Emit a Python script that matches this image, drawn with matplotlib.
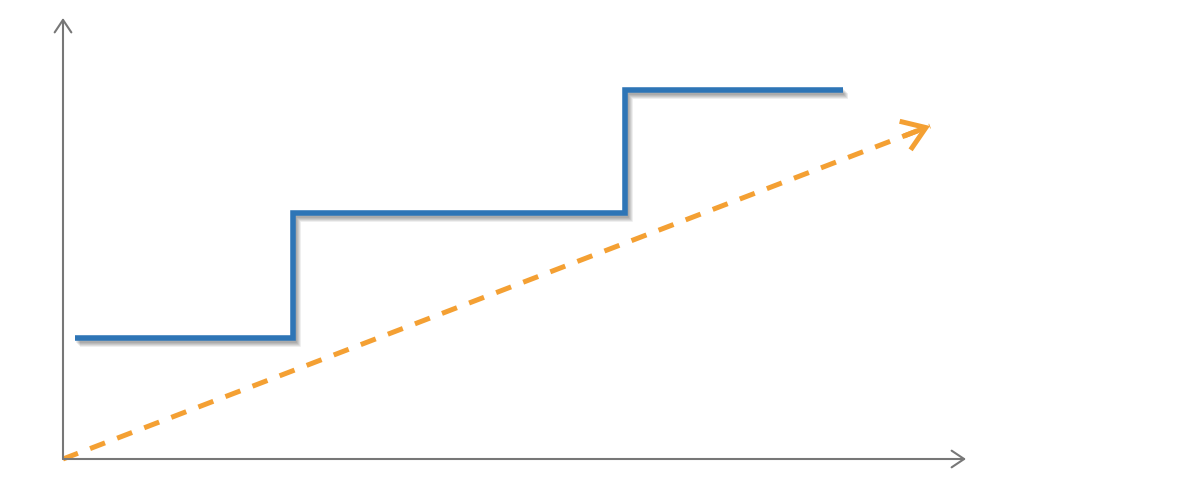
import matplotlib
matplotlib.use('Agg')
from matplotlib import pyplot as plt
import matplotlib.patheffects as pe

# step line (x in steps of the axis, y levels)
step_x = [0.12, 2.30, 5.62, 7.80]
step_y = [1.21, 2.46, 3.69]

# dashed trend from origin to arrow tip
trend_x = [0.0, 8.67]
trend_y = [0.0, 3.33]

# axis extent
x_end = 9.03
y_end = 4.41

blue = '#2E75B6'
orange = '#F4A033'
grey = '#777777'

fig = plt.figure(figsize=(12, 4.8), dpi=100)
ax = fig.add_axes([0, 0, 1, 1])
ax.set_xlim(-0.63, 11.37)
ax.set_ylim(-0.21, 4.59)
ax.axis('off')

# axes with open arrow heads
arrow = dict(arrowstyle='->,head_length=0.45,head_width=0.3', lw=1.5,
             color=grey, shrinkA=0, shrinkB=0, mutation_scale=20)
ax.annotate('', xy=(x_end, 0), xytext=(0, 0), arrowprops=arrow)
ax.annotate('', xy=(0, y_end), xytext=(0, 0), arrowprops=arrow)

# staircase
xs, ys = [step_x[0]], [step_y[0]]
for i in range(1, len(step_y)):
    xs += [step_x[i], step_x[i]]
    ys += [step_y[i - 1], step_y[i]]
xs.append(step_x[-1])
ys.append(step_y[-1])
shadow = [pe.SimpleLineShadow(offset=(o, -o * 1.2), shadow_color='black', alpha=0.08)
          for o in (1.0, 1.6, 2.2, 2.8, 3.4)]
ax.plot(xs, ys, color=blue, lw=4.0, solid_joinstyle='miter', solid_capstyle='butt',
        path_effects=shadow + [pe.Normal()], zorder=3)

# dashed trend
ax.plot(trend_x, trend_y, color=orange, lw=3.6, dashes=(3.2, 2.6), zorder=2)
dx = (trend_x[1] - trend_x[0]) * 0.03
dy = (trend_y[1] - trend_y[0]) * 0.03
ax.annotate('', xy=(trend_x[1], trend_y[1]), xytext=(trend_x[1] - dx, trend_y[1] - dy),
            arrowprops=dict(arrowstyle='->,head_length=0.8,head_width=0.55', lw=3.6,
                            color=orange, shrinkA=0, shrinkB=0, mutation_scale=20,
                            joinstyle='miter', capstyle='butt'))

fig.savefig('out.png', dpi=100)
